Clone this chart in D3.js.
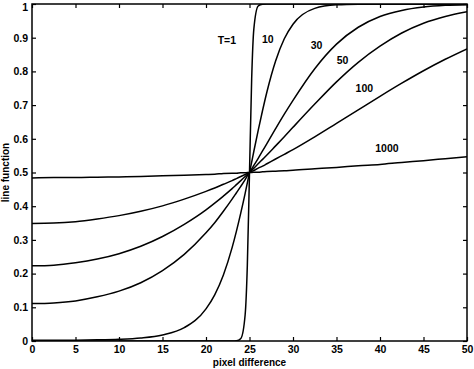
<!DOCTYPE html>
<html>
<head>
<meta charset="utf-8">
<script src="https://cdn.jsdelivr.net/npm/d3@7"></script>
<style>
  body { margin: 0; background: #fff; }
  svg { display: block; }
  .tick text { font-family: "Liberation Sans", Arial, sans-serif; font-size: 10.5px; font-weight: bold; fill: #000; }
</style>
</head>
<body>
<svg id="chart" width="474" height="369"></svg>
<script>
// pixel difference samples (denser near the crossing at 25)
const xs = [0, 2.5, 5, 7.5, 10, 12.5, 15, 17.5, 20, 21, 22, 23, 23.5, 24, 24.5, 24.75,
  25, 25.25, 25.5, 26, 26.5, 27, 28, 29, 30, 32.5, 35, 37.5, 40, 42.5, 45, 47.5, 50];

// line function values, one array per temperature T
const t1 = [0, 0, 0, 0, 0, 0, 0, 0, 0, 0, 0, 0.0001, 0.0007, 0.0074, 0.078, 0.224,
  0.5, 0.778, 0.926, 0.994, 0.9996, 1, 1, 1, 1, 1, 1, 1, 1, 1, 1, 1, 1];
const t10 = [0.0019, 0.0021, 0.0025, 0.0034, 0.0052, 0.0091, 0.018, 0.0396, 0.0953, 0.137, 0.196, 0.277, 0.326, 0.380, 0.438, 0.469,
  0.5, 0.531, 0.563, 0.625, 0.684, 0.739, 0.831, 0.897, 0.940, 0.987, 0.9975, 0.9996, 0.9999, 1, 1, 1, 1];
const t30 = [0.111, 0.113, 0.119, 0.131, 0.148, 0.173, 0.209, 0.257, 0.321, 0.351, 0.385, 0.421, 0.440, 0.459, 0.479, 0.490,
  0.5, 0.511, 0.521, 0.542, 0.564, 0.586, 0.630, 0.673, 0.714, 0.808, 0.881, 0.931, 0.963, 0.981, 0.991, 0.996, 0.998];
const t50 = [0.223, 0.225, 0.232, 0.243, 0.259, 0.281, 0.310, 0.346, 0.389, 0.409, 0.430, 0.452, 0.464, 0.476, 0.488, 0.494,
  0.5, 0.506, 0.513, 0.526, 0.539, 0.552, 0.579, 0.606, 0.634, 0.703, 0.769, 0.827, 0.875, 0.914, 0.943, 0.963, 0.977];
const t100 = [0.349, 0.350, 0.354, 0.362, 0.372, 0.385, 0.401, 0.421, 0.444, 0.454, 0.465, 0.476, 0.482, 0.488, 0.494, 0.497,
  0.5, 0.503, 0.506, 0.513, 0.519, 0.526, 0.540, 0.554, 0.568, 0.606, 0.646, 0.686, 0.726, 0.765, 0.802, 0.836, 0.867];
const t1000 = [0.484, 0.485, 0.485, 0.486, 0.487, 0.488, 0.490, 0.492, 0.494, 0.495, 0.497, 0.498, 0.498, 0.499, 0.499, 0.500,
  0.5, 0.500, 0.501, 0.501, 0.502, 0.503, 0.504, 0.505, 0.507, 0.511, 0.515, 0.520, 0.524, 0.530, 0.535, 0.541, 0.547];

const series = [t1, t10, t30, t50, t100, t1000];

// curve labels, anchored in data units
const curveLabels = ['T=1', '10', '30', '50', '100', '1000'];
const labelX = [22.4, 27.1, 32.7, 35.7, 38.2, 40.8];
const labelY = [0.893, 0.896, 0.878, 0.834, 0.751, 0.573];

const xTicks = [0, 5, 10, 15, 20, 25, 30, 35, 40, 45, 50];
const yTicks = [0, 0.1, 0.2, 0.3, 0.4, 0.5, 0.6, 0.7, 0.8, 0.9, 1];
const yTickLabels = ['0', '0.1', '0.2', '0.3', '0.4', '0.5', '0.6', '0.7', '0.8', '0.9', '1'];

const svg = d3.select('#chart');
const margin = {top: 4, right: 7, bottom: 28, left: 32};
const width = +svg.attr('width');
const height = +svg.attr('height');
const chartRight = width - margin.right;
const chartBottom = height - margin.bottom;

const xScale = d3.scaleLinear().domain([0, 50]).range([margin.left, chartRight]);
const yScale = d3.scaleLinear().domain([0, 1]).range([chartBottom, margin.top]);

svg.append('defs').append('clipPath').attr('id', 'plot-clip')
  .append('rect')
  .attr('x', margin.left).attr('y', margin.top)
  .attr('width', chartRight - margin.left).attr('height', chartBottom - margin.top);

// axes with inward ticks on all four sides
const tick = 4;
svg.append('g')
  .attr('transform', `translate(0,${chartBottom})`)
  .call(d3.axisBottom(xScale).tickValues(xTicks).tickSize(-tick).tickPadding(5))
  .call((g) => g.select('.domain').remove());
svg.append('g')
  .attr('transform', `translate(0,${margin.top})`)
  .call(d3.axisTop(xScale).tickValues(xTicks).tickSize(-tick).tickFormat(''))
  .call((g) => g.select('.domain').remove());
svg.append('g')
  .attr('transform', `translate(${margin.left},0)`)
  .call(d3.axisLeft(yScale).tickValues(yTicks).tickSize(-tick).tickPadding(4)
    .tickFormat((d, i) => yTickLabels[i]))
  .call((g) => g.select('.domain').remove())
  // the top label sits just below the edge, as in the original
  .call((g) => g.selectAll('.tick text').filter((d) => d === 1).attr('dy', '0.75em').attr('y', -1));
svg.append('g')
  .attr('transform', `translate(${chartRight},0)`)
  .call(d3.axisRight(yScale).tickValues(yTicks).tickSize(-tick).tickFormat(''))
  .call((g) => g.select('.domain').remove());

svg.selectAll('.tick line').attr('stroke', '#000').attr('stroke-width', 1.2);

const line = d3.line()
  .x((d, i) => xScale(xs[i]))
  .y((d) => yScale(d))
  .curve(d3.curveMonotoneX);

svg.append('g')
  .attr('clip-path', 'url(#plot-clip)')
  .selectAll('path')
  .data(series)
  .join('path')
  .attr('d', line)
  .attr('fill', 'none')
  .attr('stroke', '#000')
  .attr('stroke-width', 1.5);

svg.selectAll('.curve-label')
  .data(curveLabels)
  .join('text')
  .attr('class', 'curve-label')
  .attr('x', (d, i) => xScale(labelX[i]))
  .attr('y', (d, i) => yScale(labelY[i]))
  .attr('text-anchor', 'middle')
  .attr('dominant-baseline', 'central')
  .attr('font-family', '"Liberation Sans", Arial, sans-serif')
  .attr('font-size', '10.5px')
  .attr('font-weight', 'bold')
  .text((d) => d);

// frame
svg.append('rect')
  .attr('x', margin.left).attr('y', margin.top)
  .attr('width', chartRight - margin.left).attr('height', chartBottom - margin.top)
  .attr('fill', 'none').attr('stroke', '#000').attr('stroke-width', 1.5);

svg.append('text')
  .attr('x', xScale(25))
  .attr('y', height - 3)
  .attr('text-anchor', 'middle')
  .attr('font-family', '"Liberation Sans", Arial, sans-serif')
  .attr('font-size', '10px')
  .attr('font-weight', 'bold')
  .text('pixel difference');

svg.append('text')
  .attr('transform', `translate(9,${yScale(0.5)}) rotate(-90)`)
  .attr('text-anchor', 'middle')
  .attr('font-family', '"Liberation Sans", Arial, sans-serif')
  .attr('font-size', '10px')
  .attr('font-weight', 'bold')
  .text('line function');
</script>
</body>
</html>
